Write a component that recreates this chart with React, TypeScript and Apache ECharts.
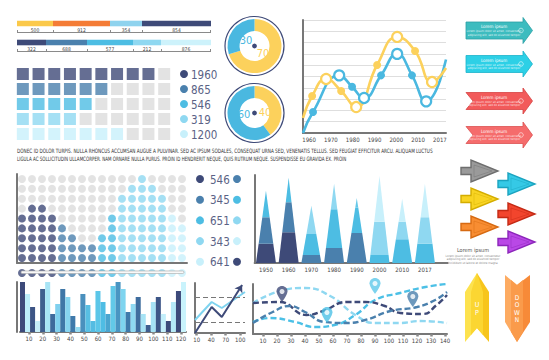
import React, { useEffect, useRef } from 'react';
import * as echarts from 'echarts';

// ---------- data ----------
const bar1Labels = ['500', '912', '354', '854'];
const bar1Lengths = [36, 57, 32, 69];
const bar2Labels = ['322', '688', '577', '212', '876'];
const bar2Lengths = [29, 41, 46, 28, 50];

const waffleLabels = ['1960', '865', '546', '319', '1200'];
const waffleCounts = [9, 6, 5, 4, 7];
const waffleCols = 10;

const donutTop = { blue: 30, yellow: 70 };
const donutBottom = { blue: 60, yellow: 40 };

const yearLabels = ['1960', '1970', '1980', '1990', '2000', '2010', '2017'];
const blueX = [-0.28, 0.18, 1.38, 1.97, 2.52, 3.3, 4.04, 4.72, 5.37, 6.28];
const blueY = [0, 1.86, 5.1, 4.1, 3.1, 5.1, 7.0, 5.1, 2.8, 6.5];
const yellowX = [-0.28, 0.14, 0.78, 1.47, 2.16, 3.12, 4.04, 4.86, 5.64, 6.28];
const yellowY = [1.33, 3.27, 4.78, 3.72, 2.3, 6.02, 8.5, 7.26, 4.51, 5.75];

const dotHeights = [5, 6, 6, 5, 4, 3, 2, 2, 3, 5, 7, 8, 9, 8, 7, 5, 4];
const dotGroup = [0, 0, 0, 0, 1, 1, 1, 1, 2, 2, 3, 3, 3, 3, 3, 4, 4];
const dotRows = 9;
const dotLegend = ['546', '345', '651', '343', '641'];

const triYears = ['1950', '1960', '1970', '1980', '1990', '2000', '2010', '2017'];
const triLow = [22, 35, 9, 17, 34, 9, 27, 22];
const triMid = [52, 69, 33, 61, 63, 47, 47, 52];
const triPeak = [82, 97, 65, 90, 74, 99, 73, 90];

const barValues = [50, 38, 25, 11, 43, 50, 18, 28, 43, 35, 16, 5, 38, 27, 11, 41, 30, 18, 46, 50, 43, 20, 28, 35, 18, 7, 30, 35, 18, 11, 30, 41, 50];
const barTicks = [10, 20, 30, 40, 50, 60, 70, 80, 90, 100, 110, 120];

const smallNavyX = [6.5, 41, 62, 104];
const smallNavyY = [0, 26, 16, 48];
const smallLightX = [6.5, 41, 62, 110];
const smallLightY = [13, 31, 25, 41];
const smallTicks = [10, 40, 70, 100];
const smallRefLines = [36, 11];

const dashTicks = [10, 20, 30, 40, 50, 60, 70, 80, 90, 100, 110, 120, 130, 140];
const dashAX = [2.9, 20, 40, 58, 76, 90, 108, 122, 141.4];
const dashAY = [31, 42, 46, 38, 19, 11, 11, 13, 11];
const dashBX = [2.9, 15, 33, 47, 61, 76, 90, 108, 126, 141.4];
const dashBY = [12, 16, 12, 7, 9, 19, 34, 41, 47, 50];
const dashCX = [2.9, 22, 41, 53, 70, 83, 97, 108, 124, 134, 141.4];
const dashCY = [31, 32, 19, 23, 32, 32, 28, 21, 20, 29, 39];
const dashDX = [2.9, 17, 29, 40, 54, 69, 83, 101, 120, 133, 141.4];
const dashDY = [11, 22, 28, 22, 12, 11, 14, 23, 27, 34, 42];
const pinX = [23.6, 55.7, 90, 117];
const pinY = [32, 11, 40, 27];

const para1 = 'DONEC ID DOLOR TURPIS. NULLA RHONCUS ACCUMSAN AUGUE A PULVINAR. SED AC IPSUM SODALES, CONSEQUAT URNA SED, VENENATIS TELLUS. SED FEUGIAT EFFICITUR ARCU. ALIQUAM LUCTUS';
const para2 = 'LIGULA AC SOLLICITUDIN ULLAMCORPER. NAM ORNARE NULLA PURUS. PROIN ID HENDRERIT NEQUE, QUIS RUTRUM NEQUE. SUSPENDISSE EU GRAVIDA EX. PROIN';

// ---------- styles ----------
const NAVY = '#3e4a78';
const STEEL = '#4a80ad';
const CYAN = '#4dbde3';
const LIGHT = '#8fd8f1';
const VLIGHT = '#c8f0fb';
const GRAY = '#dcdcdc';
const YELLOW = '#fcd15c';
const ORANGE = '#f47c36';
const DBLUE = '#4ab8e0';
const PAL = [NAVY, STEEL, CYAN, LIGHT, VLIGHT];
const AX = '#777';
const F = "'Liberation Sans Narrow', 'DejaVu Sans Condensed', Roboto, sans-serif";

const bar1Colors = ['#fbc94a', ORANGE, '#8fd3ee', NAVY];
const bar2Colors = [NAVY, STEEL, CYAN, LIGHT, '#cdf2fb'];
const triColors = [
  [NAVY, STEEL, CYAN], [NAVY, STEEL, CYAN], [STEEL, CYAN, LIGHT], [STEEL, CYAN, LIGHT],
  [STEEL, CYAN, '#66c8e9'], [CYAN, LIGHT, VLIGHT], [CYAN, LIGHT, VLIGHT], [CYAN, LIGHT, VLIGHT],
];
const barColors = ['#3d4a7a', '#bdeefa', '#3d5585', '#c7eff9', '#3e5e8e', '#a8e4f5', '#3e6a9c', '#7fd0ee', '#3f77a7', '#86d4ef', '#3f7aab', '#95dbf2', '#4a90bd', '#58bfe3', '#54bce2', '#5bc6e8', '#4fbde4', '#4aa5cf', '#62c9e8', '#4995c2', '#7ed4ef', '#3f7aab', '#8fd9f1', '#3f6d9e', '#a7e3f5', '#3f5e8f', '#a5e2f5', '#3d5687', '#c3eefa', '#3d4a7a', '#b5e9f7', '#3d4a7a', '#c9f3fc'];
const dashColors = [LIGHT, '#4cc0e6', NAVY, STEEL];
const pinColors = [NAVY, '#4cc0e6', '#5cc8ea', STEEL];

function measure(s: string, size: number) {
  const c = document.createElement('canvas').getContext('2d');
  if (!c) return s.length * size * 0.4;
  c.font = `${size}px 'Liberation Sans Narrow', 'DejaVu Sans Condensed', sans-serif`;
  return c.measureText(s).width;
}

function txt(x: number, y: number, text: string, size: number, fill: string, align = 'left', extra: any = {}) {
  return {
    type: 'text', x, y, ...extra,
    style: { text, x: 0, y: 0, fill, fontSize: size, fontFamily: F, textAlign: align, textVerticalAlign: 'middle' },
  };
}

function buildOption() {
  const graphics: any[] = [];

  // waffle legend
  waffleLabels.forEach((l, i) => {
    graphics.push({ type: 'circle', shape: { cx: 184, cy: 74 + 15 * i, r: 4 }, style: { fill: PAL[i] } });
    graphics.push(txt(191, 74.5 + 15 * i, l, 11.5, '#5a6285'));
  });
  // donut decorations
  [[46, donutTop], [113, donutBottom]].forEach(([cy, d]: any, k) => {
    graphics.push({ type: 'circle', shape: { cx: 254.5, cy, r: 29.5 }, style: { fill: 'none', stroke: NAVY, lineWidth: 1.2 } });
    graphics.push({ type: 'circle', shape: { cx: 254.5, cy, r: 2.4 }, style: { fill: NAVY } });
    if (k === 0) {
      graphics.push(txt(246, cy - 6, String(d.blue), 11, DBLUE, 'center'));
      graphics.push(txt(263, cy + 7, String(d.yellow), 11, YELLOW, 'center'));
    } else {
      graphics.push(txt(244, cy + 1, String(d.blue), 11, DBLUE, 'center'));
      graphics.push(txt(265, cy - 0.5, String(d.yellow), 11, YELLOW, 'center'));
    }
  });
  // paragraph
  [[para1, 151, 416], [para2, 159, 330]].forEach(([t, y, w]: any) => {
    const s = w / measure(t, 6);
    graphics.push(txt(17, y, t, 6, '#333', 'left', { scaleX: s }));
  });
  // dot legend
  dotLegend.forEach((l, i) => {
    const cy = 179 + 20.7 * i;
    graphics.push({ type: 'circle', shape: { cx: 200, cy, r: 4 }, style: { fill: PAL[i] } });
    graphics.push(txt(210, cy + 0.5, l, 11.5, '#5a6285'));
    graphics.push({ type: 'circle', shape: { cx: 237, cy, r: 4 }, style: { fill: PAL[(i + 1) % 5] } });
  });
  // progress overlay
  graphics.push({ type: 'rect', z: 100, shape: { x: 21, y: 271, width: 163, height: 2.4, r: 1.2 }, style: { fill: '#fff', stroke: '#aaa', lineWidth: 0.7 } });

  // ribbons
  const ribbons = [
    { y: 30.5, c: '#3dbcbf', d: '#2b9fa4', notch: false },
    { y: 64, c: '#2dd0e6', d: '#1cb2c9', notch: false },
    { y: 101, c: '#f25a5a', d: '#d64242', notch: true },
    { y: 135, c: '#f56c6c', d: '#dc5050', notch: true },
  ];
  ribbons.forEach((r) => {
    const y = r.y;
    const pts: number[][] = [[466, y - 8.5], [523, y - 8.5], [523, y - 13], [532.5, y], [523, y + 13], [523, y + 8.5], [466, y + 8.5]];
    if (r.notch) pts.push([473, y]);
    graphics.push({ type: 'polygon', shape: { points: pts }, style: { fill: r.c, stroke: r.d, lineWidth: 0.8 } });
    graphics.push({ type: 'circle', shape: { cx: 521, cy: y, r: 2.3 }, style: { fill: 'none', stroke: 'rgba(255,255,255,0.8)', lineWidth: 0.7 } });
    graphics.push(txt(494, y - 4, 'Lorem ipsum', 4.5, '#fff', 'center'));
    graphics.push(txt(494, y + 0.5, 'Lorem ipsum dolor sit amet, consectetur', 3, 'rgba(255,255,255,0.85)', 'center'));
    graphics.push(txt(494, y + 3.8, 'adipiscing elit, sed do eiusmod tempor', 3, 'rgba(255,255,255,0.85)', 'center'));
  });

  // cursor arrows
  const cursors = [
    { x: 461, y: 171, c: '#9a9a9a', d: '#6e6e6e' },
    { x: 498, y: 184, c: '#35c9e6', d: '#1ba3bf' },
    { x: 461, y: 199, c: '#f9d423', d: '#d4ad00' },
    { x: 498, y: 214, c: '#f2452d', d: '#c42a15' },
    { x: 461, y: 227, c: '#f88d32', d: '#d66a12' },
    { x: 498, y: 242, c: '#b948e6', d: '#8c26ba' },
  ];
  cursors.forEach((a) => {
    const { x, y } = a;
    graphics.push({
      type: 'polygon',
      shape: { points: [[x, y - 3.5], [x + 10, y - 3.5], [x + 10, y - 11], [x + 37, y], [x + 10, y + 11], [x + 10, y + 3.5], [x, y + 3.5]] },
      style: { fill: a.c, stroke: a.d, lineWidth: 1.4 },
    });
    graphics.push({
      type: 'polygon',
      shape: { points: [[x + 13, y - 6], [x + 31, y], [x + 13, y + 6]] },
      style: { fill: 'none', stroke: a.d, lineWidth: 0.6, opacity: 0.7 },
    });
  });
  graphics.push(txt(473, 250, 'Lorem ipsum', 5.5, '#555', 'center'));
  graphics.push(txt(473, 255.5, 'Lorem ipsum dolor sit amet, consectetur', 3, '#888', 'center'));
  graphics.push(txt(473, 259, 'adipiscing elit, sed do eiusmod tempor', 3, '#888', 'center'));
  graphics.push(txt(473, 262.5, 'incididunt ut labore et dolore magna', 3, '#888', 'center'));

  // UP arrow
  graphics.push({ type: 'polygon', shape: { points: [[477, 273], [477, 328], [465, 342], [465, 292]] }, style: { fill: '#fde24e' } });
  graphics.push({ type: 'polygon', shape: { points: [[477, 273], [489, 292], [489, 342], [477, 328]] }, style: { fill: '#f7c51c' } });
  graphics.push({ type: 'polygon', shape: { points: [[477, 273], [483, 292], [483, 335], [477, 328], [471, 335], [471, 292]] }, style: { fill: '#fbd632' } });
  ['U', 'P'].forEach((ch, i) => graphics.push(txt(477, 305 + 8 * i, ch, 7, '#fff', 'center')));
  // DOWN arrow
  graphics.push({ type: 'polygon', shape: { points: [[505, 275], [517, 285], [517, 342], [505, 322]] }, style: { fill: '#fdab62' } });
  graphics.push({ type: 'polygon', shape: { points: [[517, 285], [530, 275], [530, 322], [517, 342]] }, style: { fill: '#f78a38' } });
  graphics.push({ type: 'polygon', shape: { points: [[511, 280], [517, 285], [523, 280], [523, 332], [517, 342], [511, 332]] }, style: { fill: '#fa9b4b' } });
  ['D', 'O', 'W', 'N'].forEach((ch, i) => graphics.push(txt(517, 298 + 7.3 * i, ch, 6.5, '#fff', 'center')));

  // ---------- series data ----------
  const topSegs: any[] = [];
  [bar1Lengths, bar2Lengths].forEach((lens, r) => {
    let acc = 0;
    lens.forEach((l, k) => { topSegs.push([acc, acc + l, r, k]); acc += l; });
  });
  const topLabels = [bar1Labels, bar2Labels];
  const topColors = [bar1Colors, bar2Colors];

  const waffleData: any[] = [];
  waffleCounts.forEach((cnt, r) => {
    for (let c = 0; c < waffleCols; c++) {
      waffleData.push({ value: [c, r], itemStyle: { color: c < cnt ? PAL[r] : GRAY } });
    }
  });

  const dotData: any[] = [];
  dotHeights.forEach((h, c) => {
    for (let r = 0; r < dotRows; r++) {
      dotData.push({ value: [c, r], itemStyle: { color: r >= dotRows - h ? PAL[dotGroup[c]] : GRAY } });
    }
  });
  const progressData = dotGroup.map((g, c) => ({ value: [c, 0], itemStyle: { color: PAL[g] } }));

  const lineData = (xs: number[], ys: number[], color: string) => xs.map((x, i) => {
    if (i === 0 || i === xs.length - 1) return { value: [x, ys[i]], symbol: 'none' };
    if (i % 2 === 1) return { value: [x, ys[i]], symbol: 'circle', symbolSize: 8, itemStyle: { color, borderWidth: 0 } };
    return { value: [x, ys[i]], symbol: 'circle', symbolSize: 10, itemStyle: { color: '#fff', borderColor: color, borderWidth: 2.2 } };
  });

  const zip = (xs: number[], ys: number[]) => xs.map((x, i) => [x, ys[i]]);

  const axisLine = { show: true, onZero: false, lineStyle: { color: AX, width: 2 } };
  const hidden = { show: false };
  const lbl = { fontSize: 6, color: '#444', fontFamily: F };

  const option: any = {
    animation: false,
    backgroundColor: '#fff',
    grid: [
      { left: 17, top: 14, width: 194, height: 38 },
      { left: 15, top: 66.5, width: 157, height: 75 },
      { left: 303, top: 20, width: 143, height: 113 },
      { left: 17, top: 174, width: 170, height: 89 },
      { left: 17, top: 268, width: 170, height: 10 },
      { left: 254.6, top: 175, width: 193, height: 88 },
      { left: 20, top: 282, width: 166, height: 50 },
      { left: 195, top: 283, width: 50, height: 50 },
      { left: 253, top: 284, width: 194, height: 50 },
    ],
    xAxis: [
      { gridIndex: 0, type: 'value', min: 0, max: 194, ...hidden },
      { gridIndex: 1, type: 'category', data: Array.from({ length: waffleCols }, (_, i) => i), ...hidden },
      {
        gridIndex: 2, type: 'value', min: -0.28, max: 6.28, axisLine,
        axisTick: { show: false }, splitLine: { show: false },
        axisLabel: { ...lbl, margin: 3, customValues: yearLabels.map((_, i) => i), formatter: (v: number) => yearLabels[Math.round(v)] },
      },
      { gridIndex: 3, type: 'category', data: dotHeights.map((_, i) => i), axisLine, axisTick: { show: false }, axisLabel: { show: false } },
      { gridIndex: 4, type: 'category', data: dotGroup.map((_, i) => i), ...hidden },
      {
        gridIndex: 5, type: 'value', min: -0.5, max: 8, axisLine,
        axisTick: { show: false }, splitLine: { show: false },
        axisLabel: { ...lbl, margin: 3, customValues: triYears.map((_, i) => i), formatter: (v: number) => triYears[Math.round(v)] },
      },
      { gridIndex: 6, type: 'category', data: barValues.map((_, i) => i), axisLine, axisTick: { show: false }, axisLabel: { show: false } },
      {
        gridIndex: 6, type: 'value', position: 'bottom', min: 3.5, max: 123.6,
        axisLine: { show: false }, splitLine: { show: false },
        axisTick: { show: true, customValues: barTicks, length: 2.5, lineStyle: { color: '#888', width: 2.5 } },
        axisLabel: { ...lbl, margin: 3, customValues: barTicks },
      },
      {
        gridIndex: 7, type: 'value', min: 6.5, max: 110, axisLine, splitLine: { show: false },
        axisTick: { show: true, customValues: smallTicks, length: 2.5, lineStyle: { color: '#888', width: 2.5 } },
        axisLabel: { ...lbl, margin: 3, customValues: smallTicks },
      },
      {
        gridIndex: 8, type: 'value', min: 2.9, max: 141.4, axisLine, splitLine: { show: false },
        axisTick: { show: true, customValues: dashTicks, length: 2.5, lineStyle: { color: '#888', width: 2.5 } },
        axisLabel: { ...lbl, margin: 3, customValues: dashTicks },
      },
    ],
    yAxis: [
      { gridIndex: 0, type: 'category', data: ['a', 'b'], inverse: true, ...hidden },
      { gridIndex: 1, type: 'category', data: waffleCounts.map((_, i) => i), inverse: true, ...hidden },
      {
        gridIndex: 2, type: 'value', min: 0, max: 10, interval: 1, axisLine,
        axisTick: { show: false }, axisLabel: { show: false },
        splitLine: { show: true, lineStyle: { color: '#dedede', width: 1 } },
      },
      { gridIndex: 3, type: 'category', data: Array.from({ length: dotRows }, (_, i) => i), inverse: true, axisLine, axisTick: { show: false }, axisLabel: { show: false } },
      { gridIndex: 4, type: 'category', data: [0], ...hidden },
      { gridIndex: 5, type: 'value', min: 0, max: 100, axisLine, axisTick: { show: false }, axisLabel: { show: false }, splitLine: { show: false } },
      { gridIndex: 6, type: 'value', min: 0, max: 50, offset: 3, axisLine, axisTick: { show: false }, axisLabel: { show: false }, splitLine: { show: false } },
      { gridIndex: 7, type: 'value', min: 0, max: 50, axisLine, axisTick: { show: false }, axisLabel: { show: false }, splitLine: { show: false } },
      { gridIndex: 8, type: 'value', min: 0, max: 50, axisLine, axisTick: { show: false }, axisLabel: { show: false }, splitLine: { show: false } },
    ],
    series: [
      {
        type: 'custom', xAxisIndex: 0, yAxisIndex: 0, silent: true, data: topSegs,
        renderItem: (params: any, api: any) => {
          const s = api.value(0), e = api.value(1), row = api.value(2);
          const seg = topSegs[params.dataIndex];
          const k = seg[3];
          const p0 = api.coord([s, row]);
          const p1 = api.coord([e, row]);
          const ly = p0[1] + 9;
          const children: any[] = [
            { type: 'rect', shape: { x: p0[0], y: p0[1] - 2.8, width: p1[0] - p0[0], height: 5.6 }, style: { fill: topColors[row][k] } },
            { type: 'line', shape: { x1: p0[0], y1: ly, x2: p1[0], y2: ly }, style: { stroke: '#8a8a8a', lineWidth: 1 } },
            { type: 'line', shape: { x1: p0[0] + 0.5, y1: ly - 2.5, x2: p0[0] + 0.5, y2: ly }, style: { stroke: '#8a8a8a', lineWidth: 1 } },
            { type: 'text', x: (p0[0] + p1[0]) / 2, y: ly - 2.8, style: { text: topLabels[row][k], fill: '#444', fontSize: 5, fontFamily: F, textAlign: 'center', textVerticalAlign: 'middle' } },
          ];
          if (k === topLabels[row].length - 1) {
            children.push({ type: 'line', shape: { x1: p1[0] - 0.5, y1: ly - 2.5, x2: p1[0] - 0.5, y2: ly }, style: { stroke: '#8a8a8a', lineWidth: 1 } });
          }
          return { type: 'group', children };
        },
      },
      { type: 'scatter', xAxisIndex: 1, yAxisIndex: 1, silent: true, symbol: 'rect', symbolSize: 12, data: waffleData },
      {
        type: 'pie', silent: true, center: [254.5, 46], radius: [15, 27], startAngle: 90, label: { show: false }, labelLine: { show: false },
        data: [{ value: donutTop.yellow, itemStyle: { color: YELLOW } }, { value: donutTop.blue, itemStyle: { color: DBLUE } }],
      },
      {
        type: 'pie', silent: true, center: [254.5, 113], radius: [15, 27], startAngle: 90, label: { show: false }, labelLine: { show: false },
        data: [{ value: donutBottom.yellow, itemStyle: { color: YELLOW } }, { value: donutBottom.blue, itemStyle: { color: DBLUE } }],
      },
      {
        type: 'line', xAxisIndex: 2, yAxisIndex: 2, silent: true, smooth: 0.5, data: lineData(blueX, blueY, DBLUE),
        lineStyle: { color: DBLUE, width: 2.6 }, itemStyle: { color: DBLUE },
      },
      {
        type: 'line', xAxisIndex: 2, yAxisIndex: 2, silent: true, smooth: 0.5, data: lineData(yellowX, yellowY, YELLOW),
        lineStyle: { color: YELLOW, width: 2.6 }, itemStyle: { color: YELLOW },
      },
      { type: 'scatter', xAxisIndex: 3, yAxisIndex: 3, silent: true, symbolSize: 8, data: dotData },
      { type: 'scatter', xAxisIndex: 4, yAxisIndex: 4, silent: true, symbolSize: 8, data: progressData },
      {
        type: 'custom', xAxisIndex: 5, yAxisIndex: 5, silent: true,
        data: triYears.map((_, i) => [i, triLow[i], triMid[i], triPeak[i]]),
        renderItem: (params: any, api: any) => {
          const i = api.value(0);
          const vals = [0, api.value(1), api.value(2), api.value(3)];
          const h = vals[3];
          const hw = api.size([0.88, 0])[0] / 2;
          const cx = api.coord([i, 0])[0];
          const cols = triColors[params.dataIndex];
          const children: any[] = [];
          for (let k = 0; k < 3; k++) {
            const v0 = vals[k], v1 = vals[k + 1];
            const y0 = api.coord([i, v0])[1], y1 = api.coord([i, v1])[1];
            const w0 = hw * (1 - v0 / h), w1 = hw * (1 - v1 / h);
            children.push({ type: 'polygon', shape: { points: [[cx - w0, y0], [cx + w0, y0], [cx + w1, y1], [cx - w1, y1]] }, style: { fill: cols[k] } });
          }
          return { type: 'group', children };
        },
      },
      {
        type: 'bar', xAxisIndex: 6, yAxisIndex: 6, silent: true, barCategoryGap: '0%',
        data: barValues.map((v, i) => ({ value: v, itemStyle: { color: barColors[i] } })),
      },
      {
        type: 'line', xAxisIndex: 8, yAxisIndex: 7, silent: true, data: zip(smallLightX, smallLightY), symbol: 'none',
        lineStyle: { color: '#7fd4f0', width: 2 },
        markLine: {
          silent: true, symbol: 'none', label: { show: false },
          lineStyle: { color: '#777', type: [5, 3], width: 1 },
          data: smallRefLines.map((v) => ({ yAxis: v })),
        },
      },
      {
        type: 'line', xAxisIndex: 8, yAxisIndex: 7, silent: true, symbol: 'none', lineStyle: { color: NAVY, width: 2 },
        data: zip(smallNavyX, smallNavyY).map((p, i, arr) => i === arr.length - 1
          ? { value: p, symbol: 'arrow', symbolSize: 7, symbolRotate: -32, itemStyle: { color: NAVY } }
          : { value: p }),
      },
      ...[[dashAX, dashAY], [dashBX, dashBY], [dashCX, dashCY], [dashDX, dashDY]].map(([xs, ys], k) => ({
        type: 'line', xAxisIndex: 9, yAxisIndex: 8, silent: true, smooth: 0.5, symbol: 'none',
        lineStyle: { color: dashColors[k], width: 2.4, type: [6, 3] },
        data: zip(xs, ys),
      })),
      {
        type: 'scatter', xAxisIndex: 9, yAxisIndex: 8, silent: true, z: 5,
        symbol: 'path://M5,0 C7.8,0 10,2.2 10,5 C10,8.5 5,15 5,15 C5,15 0,8.5 0,5 C0,2.2 2.2,0 5,0 Z',
        symbolSize: [11, 16], symbolOffset: [0, -8],
        data: zip(pinX, pinY).map((p, i) => ({ value: p, itemStyle: { color: pinColors[i] } })),
      },
      {
        type: 'scatter', xAxisIndex: 9, yAxisIndex: 8, silent: true, z: 6,
        symbol: 'circle', symbolSize: 5, symbolOffset: [0, -10.5],
        itemStyle: { color: '#fff' },
        data: zip(pinX, pinY),
      },
    ],
    graphic: { elements: graphics },
  };
  return option;
}

export default function App() {
  const ref = useRef<HTMLDivElement>(null);
  useEffect(() => {
    if (!ref.current) return;
    const chart = echarts.init(ref.current, null, { renderer: 'svg' });
    chart.setOption(buildOption());
    return () => chart.dispose();
  }, []);
  return <div ref={ref} style={{ position: 'absolute', left: 0, top: 0, width: 549, height: 360, background: '#fff' }} />;
}
